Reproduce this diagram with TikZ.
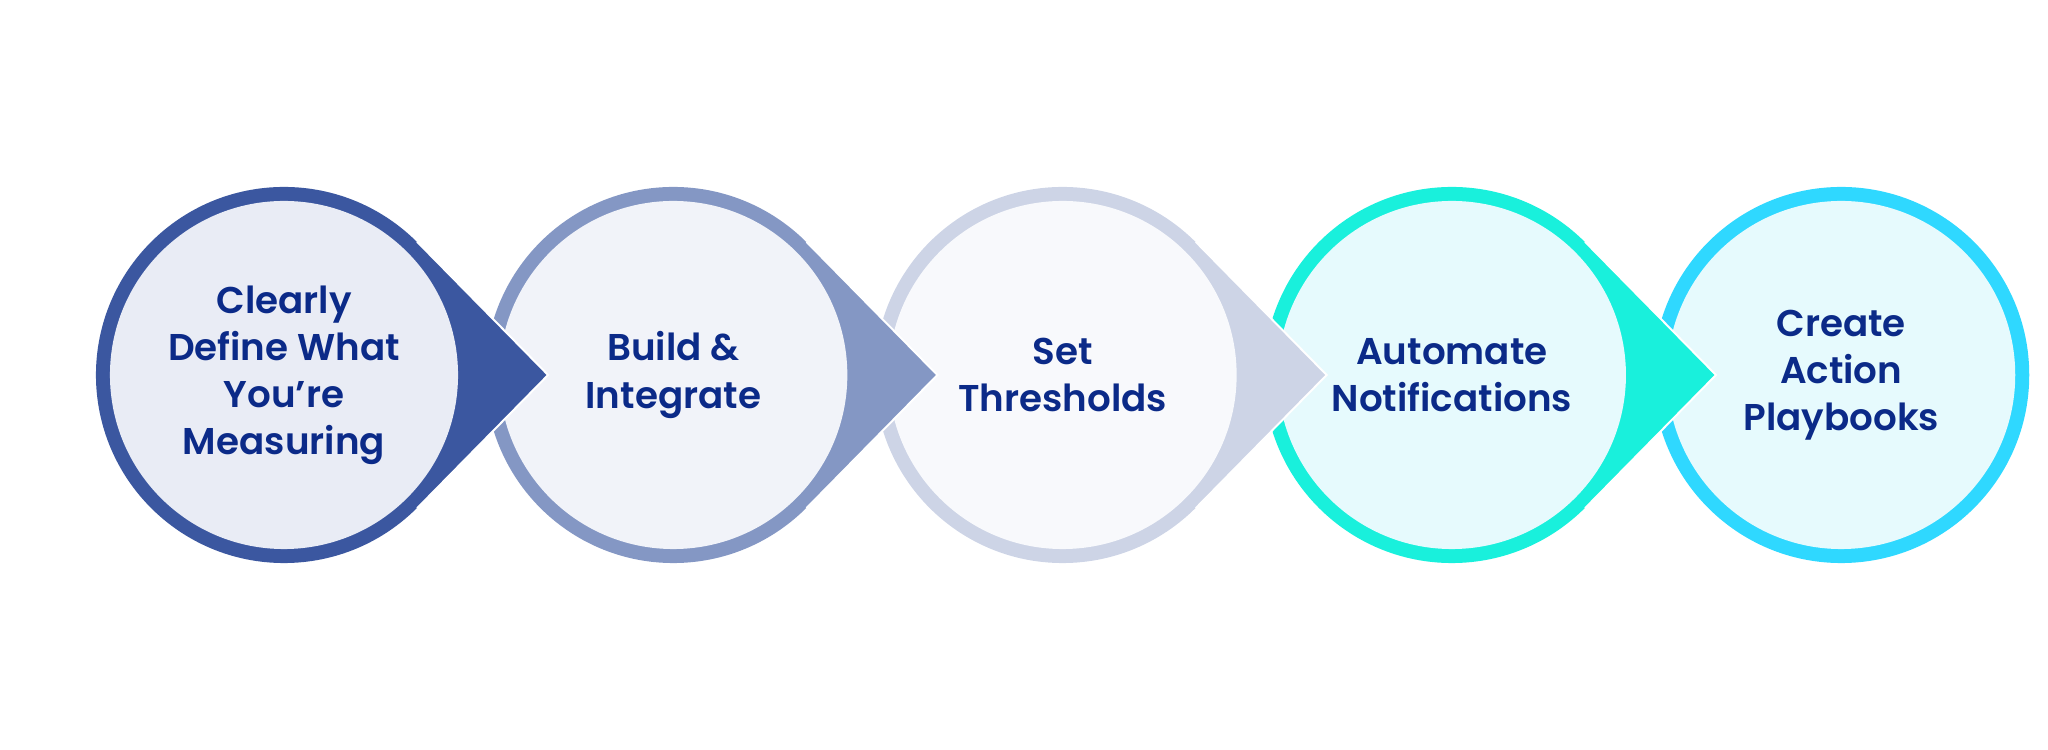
\documentclass[tikz,border=0pt]{standalone}
\usepackage{fontspec}
\setmainfont{Poppins}[BoldFont={Poppins SemiBold}]
\usetikzlibrary{positioning}

\definecolor{ringA}{HTML}{3B57A0}
\definecolor{ringB}{HTML}{8497C4}
\definecolor{ringC}{HTML}{CDD4E6}
\definecolor{ringD}{HTML}{19F0DC}
\definecolor{ringE}{HTML}{2FD8FF}
\definecolor{fillA}{HTML}{E9ECF5}
\definecolor{fillB}{HTML}{F1F3F9}
\definecolor{fillC}{HTML}{F8F9FC}
\definecolor{fillD}{HTML}{E6FAFD}
\definecolor{fillE}{HTML}{E6FAFD}
\definecolor{navy}{HTML}{0B2A88}

\begin{document}
\begin{tikzpicture}[
    x=0.025cm, y=0.025cm,
    ring/.style={circle, inner sep=0pt, minimum size=9.4cm},
    core/.style={circle, inner sep=0pt, minimum size=8.7cm, align=center, text=navy, font=\fontsize{26.5}{33.5}\selectfont\bfseries},
    edge/.style={white, line width=1.4pt}
]
    \useasboundingbox (0,0) rectangle (2048,750);

    % Centres and tips
    \coordinate (c1) at (284,375);
    \coordinate[right=9.73cm of c1] (c2);
    \coordinate[right=9.73cm of c2] (c3);
    \coordinate[right=9.73cm of c3] (c4);
    \coordinate[right=9.73cm of c4] (c5);
    \coordinate[right=6.6cm of c1] (tip1);
    \coordinate[right=6.6cm of c2] (tip2);
    \coordinate[right=6.6cm of c3] (tip3);
    \coordinate[right=6.6cm of c4] (tip4);

    % Step 5
    \node[ring, fill=ringE] (ring5) at (c5) {};
    \node[core, fill=fillE] (step5) at (c5) {Create\\Action\\Playbooks};

    % Step 4
    \node[ring, fill=ringD] (ring4) at (c4) {};
    \fill[ringD] (ring4.45) -- (tip4) -- (ring4.-45) -- cycle;
    \draw[edge] (ring4.45) -- (tip4) -- (ring4.-45);
    \node[core, fill=fillD] (step4) at (c4) {Automate\\Notifications};

    % Step 3
    \node[ring, fill=ringC] (ring3) at (c3) {};
    \fill[ringC] (ring3.45) -- (tip3) -- (ring3.-45) -- cycle;
    \draw[edge] (ring3.45) -- (tip3) -- (ring3.-45);
    \node[core, fill=fillC] (step3) at (c3) {Set\\Thresholds};

    % Step 2
    \node[ring, fill=ringB] (ring2) at (c2) {};
    \fill[ringB] (ring2.45) -- (tip2) -- (ring2.-45) -- cycle;
    \draw[edge] (ring2.45) -- (tip2) -- (ring2.-45);
    \node[core, fill=fillB] (step2) at (c2) {Build \&\\Integrate};

    % Step 1
    \node[ring, fill=ringA] (ring1) at (c1) {};
    \fill[ringA] (ring1.45) -- (tip1) -- (ring1.-45) -- cycle;
    \draw[edge] (ring1.45) -- (tip1) -- (ring1.-45);
    \node[core, fill=fillA] (step1) at (c1) {Clearly\\Define What\\You’re\\Measuring};
\end{tikzpicture}
\end{document}
